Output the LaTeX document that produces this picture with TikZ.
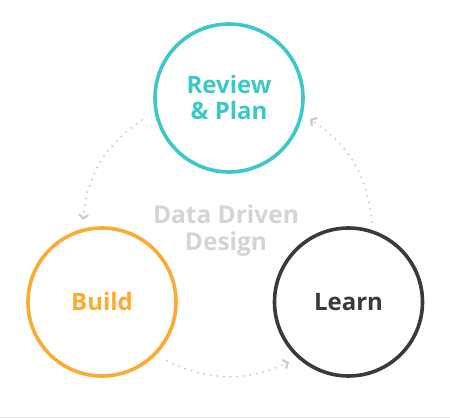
\documentclass[tikz,border=0pt]{standalone}
\usepackage{fontspec}
\setmainfont{Open Sans}
\usetikzlibrary{arrows.meta}
\definecolor{planteal}{HTML}{3CC8C9}
\definecolor{buildorange}{HTML}{F9AB33}
\definecolor{learndark}{HTML}{3A3A3A}
\definecolor{dotgray}{HTML}{CCCCCC}
\definecolor{captiongray}{HTML}{D4D4D4}
\definecolor{rulegray}{HTML}{E6E8EA}

\begin{document}
\begin{tikzpicture}[x=1pt,y=1pt,
    stage/.style={circle,draw,line width=3.6pt,minimum size=148pt,inner sep=0pt,
      align=center,font=\bfseries\fontsize{24}{26}\selectfont},
    loop/.style={dotgray,line width=2.3pt,line cap=round,dash pattern=on 0pt off 6.6pt,
      -{Straight Barb[length=3.5pt,width=8.5pt,line cap=round]}}]
    \useasboundingbox (0,0) rectangle (450,418);
    \fill[rulegray] (0,0) rectangle (450,1.2);

    \node[stage,planteal,text=planteal] (1) at (229,320) {Review\\\& Plan};
    \node[stage,buildorange,text=buildorange] (2) at (102,116) {Build};
    \node[stage,learndark,text=learndark] (3) at (348.5,116) {Learn};
    \node[text=captiongray,align=center,font=\bfseries\fontsize{24.5}{27}\selectfont] (4) at (226,187) {Data Driven\\Design};

    \coordinate (12a) at (142,298);
    \coordinate (12b) at (83,198);
    \coordinate (23a) at (167,57);
    \coordinate (23b) at (289,56);
    \coordinate (31a) at (372,196);
    \coordinate (31b) at (310,299);

    \path
    (12a) [loop] edge [bend right=25] (12b)
    (23a) [loop] edge [bend right=25] (23b)
    (31a) [loop] edge [bend right=25] (31b);
  \end{tikzpicture}
\end{document}
